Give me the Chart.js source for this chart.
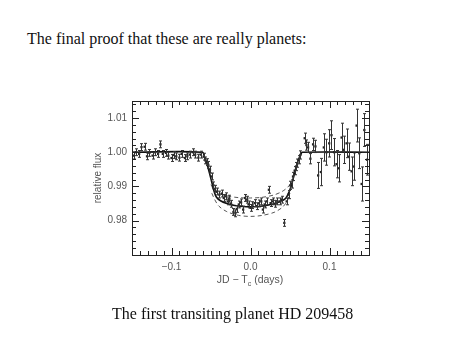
<!DOCTYPE html>
<html>
<head>
<meta charset="utf-8">
<script src="https://cdn.jsdelivr.net/npm/chart.js@4.4.1/dist/chart.umd.min.js"></script>
<style>
  html, body { margin: 0; padding: 0; background: #fff; }
  body { width: 474px; height: 355px; position: relative; overflow: hidden; }
  #c { position: absolute; left: 0; top: 0; }
  .serif { position: absolute; font-family: "Liberation Serif", "Times New Roman", serif; font-size: 16px; color: #111; white-space: nowrap; }
  #title { left: 27px; top: 30px; }
  #caption { left: 112px; top: 305px; }
  #xtitle { position: absolute; left: 190px; width: 120px; text-align: center; top: 273px; font-family: "Liberation Sans", Arial, sans-serif; font-size: 10.5px; color: #555; white-space: nowrap; }
  #xtitle sub { font-size: 7px; }
</style>
</head>
<body>
<div id="title" class="serif">The final proof that these are really planets:</div>
<canvas id="c" width="474" height="355"></canvas>
<div id="xtitle">JD &minus; T<sub>c</sub> (days)</div>
<div id="caption" class="serif">The first transiting planet HD 209458</div>
<script>
// ---- observed light curve (JD - Tc in days, relative flux, 1-sigma error) ----
const obsX = [
  -0.148, -0.145, -0.141, -0.138, -0.134, -0.131, -0.128, -0.124, -0.121, -0.117,
  -0.114, -0.111, -0.107, -0.104, -0.100, -0.097, -0.094, -0.090, -0.087, -0.083,
  -0.080, -0.077, -0.073, -0.070, -0.066, -0.063,
  -0.0593, -0.0572, -0.0555, -0.0534, -0.0513, -0.0492, -0.0470, -0.0449, -0.0424, -0.0394,
  -0.0364, -0.0339, -0.0309, -0.0288, -0.0267, -0.0246, -0.0216, -0.0191, -0.0174, -0.0148,
  -0.0119, -0.0093, -0.0068, -0.0042, -0.0025, 0.0000, 0.0025, 0.0051, 0.0081, 0.0106,
  0.0136, 0.0157, 0.0178, 0.0208, 0.0233, 0.0254, 0.0284, 0.0314, 0.0339, 0.0369,
  0.0398, 0.0428, 0.0458, 0.0483, 0.0504, 0.0521, 0.0538, 0.0559, 0.0576, 0.0593,
  0.0610, 0.0631, 0.0686, 0.0708, 0.0729, 0.0758, 0.0792, 0.0822,
  0.0856, 0.0890, 0.0928, 0.0962, 0.0996, 0.1025, 0.1059, 0.1089, 0.1119, 0.1153,
  0.1182, 0.1216, 0.1246, 0.1280, 0.1309, 0.1343, 0.1377, 0.1407, 0.1441, 0.1475
];
const obsY = [
  0.9990, 1.0000, 0.9995, 1.0015, 1.0016, 0.9988, 0.9998, 0.9990, 1.0000, 0.9995,
  1.0023, 0.9995, 0.9998, 0.9990, 0.9983, 0.9992, 0.9988, 0.9984, 0.9995, 0.9983,
  0.9988, 0.9993, 1.0000, 0.9993, 0.9984, 0.9993,
  0.9987, 0.9976, 0.9971, 0.9963, 0.9949, 0.9929, 0.9903, 0.9893, 0.9885, 0.9876,
  0.9879, 0.9866, 0.9871, 0.9856, 0.9864, 0.9849, 0.9825, 0.9821, 0.9834, 0.9847,
  0.9853, 0.9832, 0.9866, 0.9861, 0.9847, 0.9837, 0.9845, 0.9851, 0.9842, 0.9850,
  0.9856, 0.9832, 0.9847, 0.9856, 0.9890, 0.9851, 0.9856, 0.9849, 0.9856, 0.9856,
  0.9861, 0.9793, 0.9856, 0.9876, 0.9903, 0.9907, 0.9929, 0.9946, 0.9958, 0.9968,
  0.9978, 0.9992, 1.0041, 1.0021, 1.0014, 0.9981, 1.0023, 1.0017,
  0.9932, 0.9942, 1.0014, 1.0000, 1.0026, 1.0050, 1.0000, 0.9965, 0.9953, 1.0043,
  1.0007, 1.0026, 0.9987, 0.9944, 0.9958, 1.0078, 0.9997, 0.9907, 1.0065, 0.9978
];
const obsErr = [
  0.0010, 0.0010, 0.0010, 0.0010, 0.0010, 0.0010, 0.0010, 0.0010, 0.0010, 0.0010,
  0.0010, 0.0010, 0.0010, 0.0010, 0.0010, 0.0010, 0.0010, 0.0010, 0.0010, 0.0010,
  0.0010, 0.0010, 0.0010, 0.0010, 0.0010, 0.0010,
  0.0010, 0.0010, 0.0010, 0.0010, 0.0010, 0.0010, 0.0010, 0.0010, 0.0010, 0.0010,
  0.0010, 0.0010, 0.0010, 0.0010, 0.0010, 0.0010, 0.0010, 0.0010, 0.0010, 0.0010,
  0.0010, 0.0010, 0.0010, 0.0010, 0.0010, 0.0010, 0.0010, 0.0010, 0.0010, 0.0010,
  0.0010, 0.0010, 0.0010, 0.0010, 0.0010, 0.0010, 0.0010, 0.0010, 0.0010, 0.0010,
  0.0010, 0.0010, 0.0010, 0.0012, 0.0012, 0.0012, 0.0012, 0.0012, 0.0012, 0.0012,
  0.0012, 0.0012, 0.0015, 0.0015, 0.0015, 0.0015, 0.0018, 0.0018,
  0.0038, 0.0040, 0.0040, 0.0038, 0.0040, 0.0042, 0.0040, 0.0040, 0.0040, 0.0042,
  0.0040, 0.0042, 0.0040, 0.0042, 0.0040, 0.0048, 0.0045, 0.0050, 0.0048, 0.0045
];
// ---- best-fit model (solid) ----
const modelX = [-0.150, -0.061, -0.058, -0.055, -0.052, -0.049, -0.046, -0.043, -0.038, -0.030,
  -0.020, -0.010, 0.000, 0.010, 0.020, 0.030, 0.038, 0.043, 0.046, 0.049,
  0.052, 0.055, 0.058, 0.061, 0.064, 0.0655, 0.150];
const modelY = [1.0000, 1.0000, 0.9985, 0.9965, 0.9940, 0.9912, 0.9885, 0.9868, 0.9858, 0.9850,
  0.9844, 0.9841, 0.9840, 0.9841, 0.9844, 0.9849, 0.9856, 0.9862, 0.9870, 0.9885,
  0.9905, 0.9932, 0.9958, 0.9980, 0.9995, 1.0000, 1.0000];
// ---- alternative models (dashed) ----
const upperX = [-0.050, -0.046, -0.040, -0.030, -0.015, 0.000, 0.015, 0.030, 0.040, 0.046, 0.050];
const upperY = [0.9905, 0.9888, 0.9879, 0.9872, 0.9867, 0.9866, 0.9868, 0.9875, 0.9885, 0.9895, 0.9905];
const lowerX = [-0.049, -0.045, -0.040, -0.030, -0.015, 0.000, 0.015, 0.030, 0.040, 0.046, 0.050];
const lowerY = [0.9880, 0.9860, 0.9842, 0.9826, 0.9815, 0.9812, 0.9815, 0.9824, 0.9838, 0.9855, 0.9880];
// ---- axis ticks ----
const xMajor = [-0.1, 0.0, 0.1];
const xMajorLabels = ['\u22120.1', '0.0', '0.1'];
const yMajor = [0.98, 0.99, 1.00, 1.01];
const yMajorLabels = ['0.98', '0.99', '1.00', '1.01'];
const xRange = [-0.15, 0.15];
const yRange = [0.9699, 1.0150];

const xMinor = [];
for (let k = -15; k <= 15; k++) xMinor.push(k / 100);
const yMinor = [];
for (let k = 485; k <= 507; k++) yMinor.push(k / 500);

function pairs(xs, ys) { return xs.map((x, i) => ({ x: x, y: ys[i] })); }
function majorIndex(list, v) { return list.findIndex(m => Math.abs(m - v) < 1e-7); }

const frameTicks = {
  id: 'frameTicks',
  afterDraw(chart) {
    const ctx = chart.ctx, a = chart.chartArea;
    const xs = chart.scales.x, ys = chart.scales.y;
    ctx.save();
    ctx.strokeStyle = '#222';
    ctx.lineWidth = 1;
    ctx.strokeRect(Math.round(a.left) + 0.5, Math.round(a.top) + 0.5,
      Math.round(a.right - a.left), Math.round(a.bottom - a.top));
    ctx.beginPath();
    xMinor.forEach(v => {
      const px = Math.round(xs.getPixelForValue(v)) + 0.5;
      const len = majorIndex(xMajor, v) >= 0 ? 7 : 4;
      ctx.moveTo(px, a.bottom); ctx.lineTo(px, a.bottom - len);
      ctx.moveTo(px, a.top); ctx.lineTo(px, a.top + len);
    });
    yMinor.forEach(v => {
      const py = Math.round(ys.getPixelForValue(v)) + 0.5;
      const len = majorIndex(yMajor, v) >= 0 ? 7 : 4;
      ctx.moveTo(a.left, py); ctx.lineTo(a.left + len, py);
      ctx.moveTo(a.right, py); ctx.lineTo(a.right - len, py);
    });
    ctx.stroke();
    ctx.restore();
  }
};

const errorBars = {
  id: 'errorBars',
  afterDatasetsDraw(chart) {
    const ctx = chart.ctx, a = chart.chartArea;
    const xs = chart.scales.x, ys = chart.scales.y;
    ctx.save();
    ctx.beginPath();
    ctx.rect(a.left, a.top, a.right - a.left, a.bottom - a.top);
    ctx.clip();
    ctx.strokeStyle = '#333';
    ctx.lineWidth = 1;
    ctx.beginPath();
    obsX.forEach((x, i) => {
      const px = Math.round(xs.getPixelForValue(x)) + 0.5;
      const y1 = ys.getPixelForValue(obsY[i] - obsErr[i]);
      const y2 = ys.getPixelForValue(obsY[i] + obsErr[i]);
      ctx.moveTo(px, y1); ctx.lineTo(px, y2);
      ctx.moveTo(px - 1.5, y1); ctx.lineTo(px + 1.5, y1);
      ctx.moveTo(px - 1.5, y2); ctx.lineTo(px + 1.5, y2);
    });
    ctx.stroke();
    ctx.restore();
  }
};

new Chart(document.getElementById('c'), {
  type: 'scatter',
  data: {
    datasets: [
      { type: 'line', data: pairs(modelX, modelY), borderColor: '#111', borderWidth: 1.6,
        pointRadius: 0, fill: false, tension: 0.3, order: 1 },
      { type: 'line', data: pairs(upperX, upperY), borderColor: '#444', borderWidth: 0.9,
        borderDash: [4, 3], pointRadius: 0, fill: false, tension: 0.3, order: 2 },
      { type: 'line', data: pairs(lowerX, lowerY), borderColor: '#444', borderWidth: 0.9,
        borderDash: [4, 3], pointRadius: 0, fill: false, tension: 0.3, order: 3 },
      { type: 'scatter', data: pairs(obsX, obsY), pointStyle: 'rect', pointRadius: 1.6,
        backgroundColor: '#222', borderColor: '#222', borderWidth: 0, order: 0 }
    ]
  },
  options: {
    responsive: false,
    animation: false,
    devicePixelRatio: 1,
    layout: { padding: { left: 92, top: 101, right: 105, bottom: 0 } },
    plugins: { legend: { display: false }, tooltip: { enabled: false } },
    scales: {
      x: {
        type: 'linear', min: xRange[0], max: xRange[1],
        grid: { display: false, drawTicks: false }, border: { display: false },
        afterBuildTicks(s) { s.ticks = xMinor.map(v => ({ value: v })); },
        afterFit(s) { s.height = 100; },
        ticks: {
          autoSkip: false, maxRotation: 0, padding: 6, color: '#555',
          font: { family: 'Liberation Sans, Arial, sans-serif', size: 10 },
          callback(v) { const i = majorIndex(xMajor, v); return i >= 0 ? xMajorLabels[i] : ''; }
        }
      },
      y: {
        type: 'linear', min: yRange[0], max: yRange[1],
        grid: { display: false, drawTicks: false }, border: { display: false },
        afterBuildTicks(s) { s.ticks = yMinor.map(v => ({ value: v })); },
        afterFit(s) { s.width = 40; },
        title: { display: true, text: 'relative flux', color: '#555', padding: 0,
          font: { family: 'Liberation Sans, Arial, sans-serif', size: 10 } },
        ticks: {
          autoSkip: false, padding: 5, color: '#555',
          font: { family: 'Liberation Sans, Arial, sans-serif', size: 10 },
          callback(v) { const i = majorIndex(yMajor, v); return i >= 0 ? yMajorLabels[i] : ''; }
        }
      }
    }
  },
  plugins: [errorBars, frameTicks]
});
</script>
</body>
</html>
